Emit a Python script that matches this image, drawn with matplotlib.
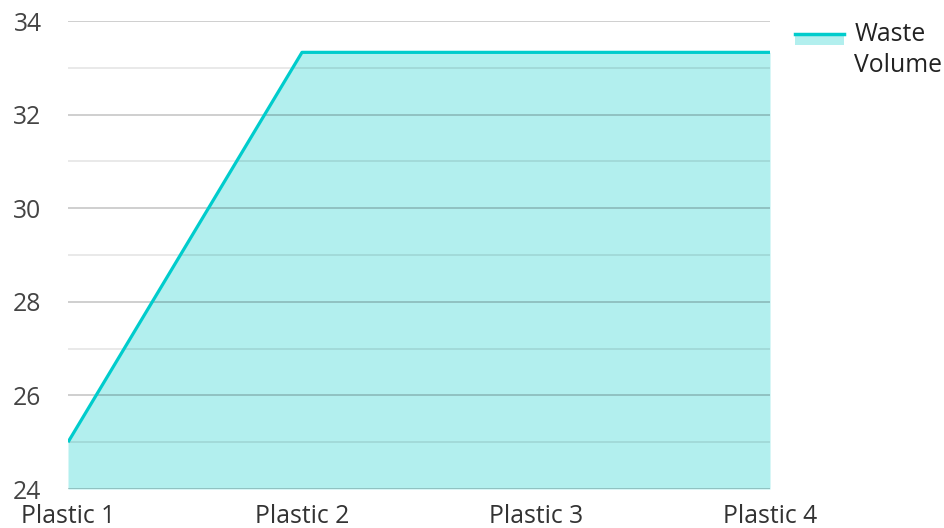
import matplotlib.pyplot as plt
from matplotlib.legend_handler import HandlerBase
from matplotlib.patches import Rectangle
from matplotlib.lines import Line2D

# dados
categorias = ['Plastic 1', 'Plastic 2', 'Plastic 3', 'Plastic 4']
volume = [25, 33.33, 33.33, 33.33]
serie = 'Waste\nVolume'

cor_linha = '#00cccc'
cor_area = '#b2efee'

plt.rcParams['font.family'] = ['Open Sans', 'DejaVu Sans']

fig = plt.figure(figsize=(9.44, 5.28), dpi=100)
ax = fig.add_axes([68/944, 1 - 489/528, (770-68)/944, (489-21)/528])

x = list(range(len(categorias)))
ax.fill_between(x, 24, volume, color=cor_area, lw=0, zorder=1)
ax.plot(x, volume, color=cor_linha, lw=2.3, zorder=3, solid_capstyle='butt')

ax.set_xlim(0, len(categorias) - 1)
ax.set_ylim(24, 34)
ax.set_yticks(range(24, 35, 2))
ax.set_yticks(range(25, 35, 2), minor=True)
ax.set_xticks(x)
ax.set_xticklabels(categorias)

# grade por cima da área
for v in range(24, 35, 2):
    ax.axhline(v, color='black', alpha=0.22, lw=1.2, zorder=2)
for v in range(25, 35, 2):
    ax.axhline(v, color='black', alpha=0.1, lw=1.2, zorder=2)

for s in ax.spines.values():
    s.set_visible(False)
ax.tick_params(axis='both', which='both', length=0, labelsize=17.8)
ax.tick_params(axis='y', pad=19, labelcolor='#444444')
ax.tick_params(axis='x', pad=11, labelcolor='#333333')


class AreaHandler(HandlerBase):
    def create_artists(self, legend, orig_handle, xdescent, ydescent,
                       width, height, fontsize, trans):
        r = Rectangle((-xdescent, -ydescent + height * 0.66), width, height * 0.24,
                      facecolor=cor_area, edgecolor='none', transform=trans)
        l = Line2D([-xdescent, -xdescent + width], [-ydescent + height * 0.92] * 2,
                   color=cor_linha, lw=2.5, transform=trans)
        return [r, l]


h = Rectangle((0, 0), 1, 1)
leg = fig.legend([h], [serie], handler_map={Rectangle: AreaHandler()},
                 loc='upper left', bbox_to_anchor=(795/944, 1 - 22/528),
                 frameon=False, fontsize=17.8, handlelength=2.0,
                 handleheight=2.3, handletextpad=0.4, borderpad=0,
                 borderaxespad=0)
for t in leg.get_texts():
    t.set_color('#222222')
    t.set_linespacing(1.3)

fig.savefig('out.png', dpi=100)
